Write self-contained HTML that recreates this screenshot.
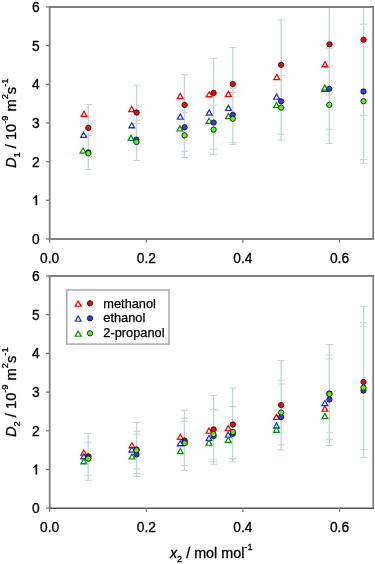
<!DOCTYPE html>
<html><head><meta charset="utf-8"><style>
html,body{margin:0;padding:0;background:#fff;width:375px;height:564px;overflow:hidden}
svg{display:block}
text{filter:grayscale(1)}
.t{font-family:"Liberation Sans",sans-serif;font-size:13.8px;fill:#000;stroke:#000;stroke-width:0.3px}
.l{font-family:"Liberation Sans",sans-serif;font-size:12.8px;fill:#000;stroke:#000;stroke-width:0.25px}
</style></head><body>
<svg width="375" height="564" viewBox="0 0 375 564">
<rect width="375" height="564" fill="#fff"/>
<clipPath id="c0"><rect x="49.7" y="7.0" width="323.50" height="232.0"/></clipPath>
<clipPath id="c1"><rect x="49.7" y="276.0" width="323.50" height="232.2"/></clipPath>
<g clip-path="url(#c0)">
<line x1="88.3" y1="104.4" x2="88.3" y2="169.4" stroke="#c6d5db" stroke-width="1.35"/>
<line x1="84.70" y1="104.4" x2="91.90" y2="104.4" stroke="#c6d5db" stroke-width="1.05"/>
<line x1="84.70" y1="135.5" x2="91.90" y2="135.5" stroke="#c6d5db" stroke-width="1.05"/>
<line x1="84.70" y1="169.4" x2="91.90" y2="169.4" stroke="#c6d5db" stroke-width="1.05"/>
<line x1="136.6" y1="85.2" x2="136.6" y2="160.4" stroke="#c6d5db" stroke-width="1.35"/>
<line x1="133.00" y1="85.2" x2="140.20" y2="85.2" stroke="#c6d5db" stroke-width="1.05"/>
<line x1="133.00" y1="120.2" x2="140.20" y2="120.2" stroke="#c6d5db" stroke-width="1.05"/>
<line x1="133.00" y1="123.5" x2="140.20" y2="123.5" stroke="#c6d5db" stroke-width="1.05"/>
<line x1="133.00" y1="160.4" x2="140.20" y2="160.4" stroke="#c6d5db" stroke-width="1.05"/>
<line x1="184.4" y1="74.8" x2="184.4" y2="157.6" stroke="#c6d5db" stroke-width="1.35"/>
<line x1="180.80" y1="74.8" x2="188.00" y2="74.8" stroke="#c6d5db" stroke-width="1.05"/>
<line x1="180.80" y1="112.8" x2="188.00" y2="112.8" stroke="#c6d5db" stroke-width="1.05"/>
<line x1="180.80" y1="151.2" x2="188.00" y2="151.2" stroke="#c6d5db" stroke-width="1.05"/>
<line x1="180.80" y1="157.6" x2="188.00" y2="157.6" stroke="#c6d5db" stroke-width="1.05"/>
<line x1="213.6" y1="58.3" x2="213.6" y2="154.5" stroke="#c6d5db" stroke-width="1.35"/>
<line x1="210.00" y1="58.3" x2="217.20" y2="58.3" stroke="#c6d5db" stroke-width="1.05"/>
<line x1="210.00" y1="105.2" x2="217.20" y2="105.2" stroke="#c6d5db" stroke-width="1.05"/>
<line x1="210.00" y1="149.2" x2="217.20" y2="149.2" stroke="#c6d5db" stroke-width="1.05"/>
<line x1="210.00" y1="154.5" x2="217.20" y2="154.5" stroke="#c6d5db" stroke-width="1.05"/>
<line x1="232.8" y1="47.5" x2="232.8" y2="144.4" stroke="#c6d5db" stroke-width="1.35"/>
<line x1="229.20" y1="47.5" x2="236.40" y2="47.5" stroke="#c6d5db" stroke-width="1.05"/>
<line x1="229.20" y1="88.1" x2="236.40" y2="88.1" stroke="#c6d5db" stroke-width="1.05"/>
<line x1="229.20" y1="92.4" x2="236.40" y2="92.4" stroke="#c6d5db" stroke-width="1.05"/>
<line x1="229.20" y1="142.8" x2="236.40" y2="142.8" stroke="#c6d5db" stroke-width="1.05"/>
<line x1="229.20" y1="144.4" x2="236.40" y2="144.4" stroke="#c6d5db" stroke-width="1.05"/>
<line x1="281.1" y1="20" x2="281.1" y2="140" stroke="#c6d5db" stroke-width="1.35"/>
<line x1="277.50" y1="20" x2="284.70" y2="20" stroke="#c6d5db" stroke-width="1.05"/>
<line x1="277.50" y1="75.5" x2="284.70" y2="75.5" stroke="#c6d5db" stroke-width="1.05"/>
<line x1="277.50" y1="134.2" x2="284.70" y2="134.2" stroke="#c6d5db" stroke-width="1.05"/>
<line x1="277.50" y1="140" x2="284.70" y2="140" stroke="#c6d5db" stroke-width="1.05"/>
<line x1="329.2" y1="7" x2="329.2" y2="143.5" stroke="#c6d5db" stroke-width="1.35"/>
<line x1="325.60" y1="48.3" x2="332.80" y2="48.3" stroke="#c6d5db" stroke-width="1.05"/>
<line x1="325.60" y1="65.9" x2="332.80" y2="65.9" stroke="#c6d5db" stroke-width="1.05"/>
<line x1="325.60" y1="94.9" x2="332.80" y2="94.9" stroke="#c6d5db" stroke-width="1.05"/>
<line x1="325.60" y1="129.3" x2="332.80" y2="129.3" stroke="#c6d5db" stroke-width="1.05"/>
<line x1="325.60" y1="143.5" x2="332.80" y2="143.5" stroke="#c6d5db" stroke-width="1.05"/>
<line x1="363.5" y1="7" x2="363.5" y2="163.3" stroke="#c6d5db" stroke-width="1.35"/>
<line x1="359.90" y1="24.3" x2="367.10" y2="24.3" stroke="#c6d5db" stroke-width="1.05"/>
<line x1="359.90" y1="115.2" x2="367.10" y2="115.2" stroke="#c6d5db" stroke-width="1.05"/>
<line x1="359.90" y1="159.5" x2="367.10" y2="159.5" stroke="#c6d5db" stroke-width="1.05"/>
<line x1="359.90" y1="163.3" x2="367.10" y2="163.3" stroke="#c6d5db" stroke-width="1.05"/>
</g>
<g clip-path="url(#c1)">
<line x1="88.2" y1="433.5" x2="88.2" y2="480.3" stroke="#c6d5db" stroke-width="1.35"/>
<line x1="84.60" y1="433.5" x2="91.80" y2="433.5" stroke="#c6d5db" stroke-width="1.05"/>
<line x1="84.60" y1="442.3" x2="91.80" y2="442.3" stroke="#c6d5db" stroke-width="1.05"/>
<line x1="84.60" y1="475.3" x2="91.80" y2="475.3" stroke="#c6d5db" stroke-width="1.05"/>
<line x1="84.60" y1="480.3" x2="91.80" y2="480.3" stroke="#c6d5db" stroke-width="1.05"/>
<line x1="136.6" y1="422.4" x2="136.6" y2="476.5" stroke="#c6d5db" stroke-width="1.35"/>
<line x1="133.00" y1="422.4" x2="140.20" y2="422.4" stroke="#c6d5db" stroke-width="1.05"/>
<line x1="133.00" y1="431.3" x2="140.20" y2="431.3" stroke="#c6d5db" stroke-width="1.05"/>
<line x1="133.00" y1="434.2" x2="140.20" y2="434.2" stroke="#c6d5db" stroke-width="1.05"/>
<line x1="133.00" y1="468.9" x2="140.20" y2="468.9" stroke="#c6d5db" stroke-width="1.05"/>
<line x1="133.00" y1="473.6" x2="140.20" y2="473.6" stroke="#c6d5db" stroke-width="1.05"/>
<line x1="133.00" y1="476.5" x2="140.20" y2="476.5" stroke="#c6d5db" stroke-width="1.05"/>
<line x1="184.4" y1="410.2" x2="184.4" y2="470.5" stroke="#c6d5db" stroke-width="1.35"/>
<line x1="180.80" y1="410.2" x2="188.00" y2="410.2" stroke="#c6d5db" stroke-width="1.05"/>
<line x1="180.80" y1="418.2" x2="188.00" y2="418.2" stroke="#c6d5db" stroke-width="1.05"/>
<line x1="180.80" y1="421" x2="188.00" y2="421" stroke="#c6d5db" stroke-width="1.05"/>
<line x1="180.80" y1="465.5" x2="188.00" y2="465.5" stroke="#c6d5db" stroke-width="1.05"/>
<line x1="180.80" y1="470.5" x2="188.00" y2="470.5" stroke="#c6d5db" stroke-width="1.05"/>
<line x1="213.6" y1="395.4" x2="213.6" y2="464.3" stroke="#c6d5db" stroke-width="1.35"/>
<line x1="210.00" y1="395.4" x2="217.20" y2="395.4" stroke="#c6d5db" stroke-width="1.05"/>
<line x1="210.00" y1="409.6" x2="217.20" y2="409.6" stroke="#c6d5db" stroke-width="1.05"/>
<line x1="210.00" y1="459.2" x2="217.20" y2="459.2" stroke="#c6d5db" stroke-width="1.05"/>
<line x1="210.00" y1="461.8" x2="217.20" y2="461.8" stroke="#c6d5db" stroke-width="1.05"/>
<line x1="210.00" y1="464.3" x2="217.20" y2="464.3" stroke="#c6d5db" stroke-width="1.05"/>
<line x1="232.6" y1="388" x2="232.6" y2="461.9" stroke="#c6d5db" stroke-width="1.35"/>
<line x1="229.00" y1="388" x2="236.20" y2="388" stroke="#c6d5db" stroke-width="1.05"/>
<line x1="229.00" y1="406.6" x2="236.20" y2="406.6" stroke="#c6d5db" stroke-width="1.05"/>
<line x1="229.00" y1="458.6" x2="236.20" y2="458.6" stroke="#c6d5db" stroke-width="1.05"/>
<line x1="229.00" y1="461.9" x2="236.20" y2="461.9" stroke="#c6d5db" stroke-width="1.05"/>
<line x1="281.1" y1="360.5" x2="281.1" y2="450" stroke="#c6d5db" stroke-width="1.35"/>
<line x1="277.50" y1="360.5" x2="284.70" y2="360.5" stroke="#c6d5db" stroke-width="1.05"/>
<line x1="277.50" y1="380.3" x2="284.70" y2="380.3" stroke="#c6d5db" stroke-width="1.05"/>
<line x1="277.50" y1="384" x2="284.70" y2="384" stroke="#c6d5db" stroke-width="1.05"/>
<line x1="277.50" y1="444.8" x2="284.70" y2="444.8" stroke="#c6d5db" stroke-width="1.05"/>
<line x1="277.50" y1="450" x2="284.70" y2="450" stroke="#c6d5db" stroke-width="1.05"/>
<line x1="329.3" y1="344.6" x2="329.3" y2="445.5" stroke="#c6d5db" stroke-width="1.35"/>
<line x1="325.70" y1="344.6" x2="332.90" y2="344.6" stroke="#c6d5db" stroke-width="1.05"/>
<line x1="325.70" y1="355" x2="332.90" y2="355" stroke="#c6d5db" stroke-width="1.05"/>
<line x1="325.70" y1="359" x2="332.90" y2="359" stroke="#c6d5db" stroke-width="1.05"/>
<line x1="325.70" y1="432.7" x2="332.90" y2="432.7" stroke="#c6d5db" stroke-width="1.05"/>
<line x1="325.70" y1="439.1" x2="332.90" y2="439.1" stroke="#c6d5db" stroke-width="1.05"/>
<line x1="325.70" y1="445.5" x2="332.90" y2="445.5" stroke="#c6d5db" stroke-width="1.05"/>
<line x1="363.5" y1="306.5" x2="363.5" y2="457.4" stroke="#c6d5db" stroke-width="1.35"/>
<line x1="359.90" y1="306.5" x2="367.10" y2="306.5" stroke="#c6d5db" stroke-width="1.05"/>
<line x1="359.90" y1="322.8" x2="367.10" y2="322.8" stroke="#c6d5db" stroke-width="1.05"/>
<line x1="359.90" y1="326.2" x2="367.10" y2="326.2" stroke="#c6d5db" stroke-width="1.05"/>
<line x1="359.90" y1="449.4" x2="367.10" y2="449.4" stroke="#c6d5db" stroke-width="1.05"/>
<line x1="359.90" y1="457.4" x2="367.10" y2="457.4" stroke="#c6d5db" stroke-width="1.05"/>
</g>
<path d="M84.00 110.00L88.00 117.00L80.00 117.00Z M84.00 112.82L85.59 115.60L82.41 115.60Z" fill="#ff0000" fill-rule="evenodd"/>
<path d="M84.00 112.82L85.59 115.60L82.41 115.60Z" fill="#fff"/>
<path d="M131.70 105.30L135.70 112.30L127.70 112.30Z M131.70 108.12L133.29 110.90L130.11 110.90Z" fill="#ff0000" fill-rule="evenodd"/>
<path d="M131.70 108.12L133.29 110.90L130.11 110.90Z" fill="#fff"/>
<path d="M180.20 92.30L184.20 99.30L176.20 99.30Z M180.20 95.12L181.79 97.90L178.61 97.90Z" fill="#ff0000" fill-rule="evenodd"/>
<path d="M180.20 95.12L181.79 97.90L178.61 97.90Z" fill="#fff"/>
<path d="M209.20 90.50L213.20 97.50L205.20 97.50Z M209.20 93.32L210.79 96.10L207.61 96.10Z" fill="#ff0000" fill-rule="evenodd"/>
<path d="M209.20 93.32L210.79 96.10L207.61 96.10Z" fill="#fff"/>
<path d="M228.40 90.10L232.40 97.10L224.40 97.10Z M228.40 92.92L229.99 95.70L226.81 95.70Z" fill="#ff0000" fill-rule="evenodd"/>
<path d="M228.40 92.92L229.99 95.70L226.81 95.70Z" fill="#fff"/>
<path d="M276.80 73.30L280.80 80.30L272.80 80.30Z M276.80 76.12L278.39 78.90L275.21 78.90Z" fill="#ff0000" fill-rule="evenodd"/>
<path d="M276.80 76.12L278.39 78.90L275.21 78.90Z" fill="#fff"/>
<path d="M325.00 60.50L329.00 67.50L321.00 67.50Z M325.00 63.32L326.59 66.10L323.41 66.10Z" fill="#ff0000" fill-rule="evenodd"/>
<path d="M325.00 63.32L326.59 66.10L323.41 66.10Z" fill="#fff"/>
<path d="M83.60 130.90L87.60 137.90L79.60 137.90Z M83.60 133.72L85.19 136.50L82.01 136.50Z" fill="#1f2ff5" fill-rule="evenodd"/>
<path d="M83.60 133.72L85.19 136.50L82.01 136.50Z" fill="#fff"/>
<path d="M131.80 121.50L135.80 128.50L127.80 128.50Z M131.80 124.32L133.39 127.10L130.21 127.10Z" fill="#1f2ff5" fill-rule="evenodd"/>
<path d="M131.80 124.32L133.39 127.10L130.21 127.10Z" fill="#fff"/>
<path d="M180.30 112.80L184.30 119.80L176.30 119.80Z M180.30 115.62L181.89 118.40L178.71 118.40Z" fill="#1f2ff5" fill-rule="evenodd"/>
<path d="M180.30 115.62L181.89 118.40L178.71 118.40Z" fill="#fff"/>
<path d="M209.20 108.70L213.20 115.70L205.20 115.70Z M209.20 111.52L210.79 114.30L207.61 114.30Z" fill="#1f2ff5" fill-rule="evenodd"/>
<path d="M209.20 111.52L210.79 114.30L207.61 114.30Z" fill="#fff"/>
<path d="M228.40 104.10L232.40 111.10L224.40 111.10Z M228.40 106.92L229.99 109.70L226.81 109.70Z" fill="#1f2ff5" fill-rule="evenodd"/>
<path d="M228.40 106.92L229.99 109.70L226.81 109.70Z" fill="#fff"/>
<path d="M276.60 92.80L280.60 99.80L272.60 99.80Z M276.60 95.62L278.19 98.40L275.01 98.40Z" fill="#1f2ff5" fill-rule="evenodd"/>
<path d="M276.60 95.62L278.19 98.40L275.01 98.40Z" fill="#fff"/>
<path d="M324.80 85.10L328.80 92.10L320.80 92.10Z M324.80 87.92L326.39 90.70L323.21 90.70Z" fill="#1f2ff5" fill-rule="evenodd"/>
<path d="M324.80 87.92L326.39 90.70L323.21 90.70Z" fill="#fff"/>
<path d="M83.00 146.70L87.00 153.70L79.00 153.70Z M83.00 149.52L84.59 152.30L81.41 152.30Z" fill="#009a00" fill-rule="evenodd"/>
<path d="M83.00 149.52L84.59 152.30L81.41 152.30Z" fill="#fff"/>
<path d="M131.00 134.10L135.00 141.10L127.00 141.10Z M131.00 136.92L132.59 139.70L129.41 139.70Z" fill="#009a00" fill-rule="evenodd"/>
<path d="M131.00 136.92L132.59 139.70L129.41 139.70Z" fill="#fff"/>
<path d="M179.90 124.60L183.90 131.60L175.90 131.60Z M179.90 127.42L181.49 130.20L178.31 130.20Z" fill="#009a00" fill-rule="evenodd"/>
<path d="M179.90 127.42L181.49 130.20L178.31 130.20Z" fill="#fff"/>
<path d="M209.00 116.90L213.00 123.90L205.00 123.90Z M209.00 119.72L210.59 122.50L207.41 122.50Z" fill="#009a00" fill-rule="evenodd"/>
<path d="M209.00 119.72L210.59 122.50L207.41 122.50Z" fill="#fff"/>
<path d="M228.40 112.30L232.40 119.30L224.40 119.30Z M228.40 115.12L229.99 117.90L226.81 117.90Z" fill="#009a00" fill-rule="evenodd"/>
<path d="M228.40 115.12L229.99 117.90L226.81 117.90Z" fill="#fff"/>
<path d="M276.50 101.30L280.50 108.30L272.50 108.30Z M276.50 104.12L278.09 106.90L274.91 106.90Z" fill="#009a00" fill-rule="evenodd"/>
<path d="M276.50 104.12L278.09 106.90L274.91 106.90Z" fill="#fff"/>
<path d="M324.80 83.70L328.80 90.70L320.80 90.70Z M324.80 86.52L326.39 89.30L323.21 89.30Z" fill="#009a00" fill-rule="evenodd"/>
<path d="M324.80 86.52L326.39 89.30L323.21 89.30Z" fill="#fff"/>
<circle cx="88.30" cy="127.90" r="2.65" fill="#ff0000" stroke="#1a1a1a" stroke-width="0.9"/>
<circle cx="136.60" cy="112.50" r="2.65" fill="#ff0000" stroke="#1a1a1a" stroke-width="0.9"/>
<circle cx="184.60" cy="104.90" r="2.65" fill="#ff0000" stroke="#1a1a1a" stroke-width="0.9"/>
<circle cx="213.60" cy="92.90" r="2.65" fill="#ff0000" stroke="#1a1a1a" stroke-width="0.9"/>
<circle cx="232.80" cy="84.10" r="2.65" fill="#ff0000" stroke="#1a1a1a" stroke-width="0.9"/>
<circle cx="281.10" cy="64.80" r="2.65" fill="#ff0000" stroke="#1a1a1a" stroke-width="0.9"/>
<circle cx="329.50" cy="44.30" r="2.65" fill="#ff0000" stroke="#1a1a1a" stroke-width="0.9"/>
<circle cx="363.50" cy="39.70" r="2.65" fill="#ff0000" stroke="#1a1a1a" stroke-width="0.9"/>
<circle cx="88.30" cy="152.30" r="2.65" fill="#2a3cf0" stroke="#1a1a1a" stroke-width="0.9"/>
<circle cx="136.40" cy="139.60" r="2.65" fill="#2a3cf0" stroke="#1a1a1a" stroke-width="0.9"/>
<circle cx="184.60" cy="127.20" r="2.65" fill="#2a3cf0" stroke="#1a1a1a" stroke-width="0.9"/>
<circle cx="213.60" cy="122.60" r="2.65" fill="#2a3cf0" stroke="#1a1a1a" stroke-width="0.9"/>
<circle cx="232.80" cy="114.80" r="2.65" fill="#2a3cf0" stroke="#1a1a1a" stroke-width="0.9"/>
<circle cx="281.10" cy="101.30" r="2.65" fill="#2a3cf0" stroke="#1a1a1a" stroke-width="0.9"/>
<circle cx="329.30" cy="88.80" r="2.65" fill="#2a3cf0" stroke="#1a1a1a" stroke-width="0.9"/>
<circle cx="363.50" cy="91.50" r="2.65" fill="#2a3cf0" stroke="#1a1a1a" stroke-width="0.9"/>
<circle cx="88.30" cy="153.20" r="2.65" fill="#5cf01e" stroke="#1a1a1a" stroke-width="0.9"/>
<circle cx="136.40" cy="142.00" r="2.65" fill="#5cf01e" stroke="#1a1a1a" stroke-width="0.9"/>
<circle cx="184.60" cy="135.30" r="2.65" fill="#5cf01e" stroke="#1a1a1a" stroke-width="0.9"/>
<circle cx="213.60" cy="129.60" r="2.65" fill="#5cf01e" stroke="#1a1a1a" stroke-width="0.9"/>
<circle cx="232.80" cy="118.80" r="2.65" fill="#5cf01e" stroke="#1a1a1a" stroke-width="0.9"/>
<circle cx="281.10" cy="107.70" r="2.65" fill="#5cf01e" stroke="#1a1a1a" stroke-width="0.9"/>
<circle cx="329.30" cy="104.80" r="2.65" fill="#5cf01e" stroke="#1a1a1a" stroke-width="0.9"/>
<circle cx="363.50" cy="101.30" r="2.65" fill="#5cf01e" stroke="#1a1a1a" stroke-width="0.9"/>
<path d="M83.80 448.70L87.80 455.70L79.80 455.70Z M83.80 451.52L85.39 454.30L82.21 454.30Z" fill="#ff0000" fill-rule="evenodd"/>
<path d="M83.80 451.52L85.39 454.30L82.21 454.30Z" fill="#fff"/>
<path d="M131.90 441.40L135.90 448.40L127.90 448.40Z M131.90 444.22L133.49 447.00L130.31 447.00Z" fill="#ff0000" fill-rule="evenodd"/>
<path d="M131.90 444.22L133.49 447.00L130.31 447.00Z" fill="#fff"/>
<path d="M180.30 433.00L184.30 440.00L176.30 440.00Z M180.30 435.82L181.89 438.60L178.71 438.60Z" fill="#ff0000" fill-rule="evenodd"/>
<path d="M180.30 435.82L181.89 438.60L178.71 438.60Z" fill="#fff"/>
<path d="M209.00 426.80L213.00 433.80L205.00 433.80Z M209.00 429.62L210.59 432.40L207.41 432.40Z" fill="#ff0000" fill-rule="evenodd"/>
<path d="M209.00 429.62L210.59 432.40L207.41 432.40Z" fill="#fff"/>
<path d="M228.20 424.30L232.20 431.30L224.20 431.30Z M228.20 427.12L229.79 429.90L226.61 429.90Z" fill="#ff0000" fill-rule="evenodd"/>
<path d="M228.20 427.12L229.79 429.90L226.61 429.90Z" fill="#fff"/>
<path d="M276.50 413.10L280.50 420.10L272.50 420.10Z M276.50 415.92L278.09 418.70L274.91 418.70Z" fill="#ff0000" fill-rule="evenodd"/>
<path d="M276.50 415.92L278.09 418.70L274.91 418.70Z" fill="#fff"/>
<path d="M324.90 404.80L328.90 411.80L320.90 411.80Z M324.90 407.62L326.49 410.40L323.31 410.40Z" fill="#ff0000" fill-rule="evenodd"/>
<path d="M324.90 407.62L326.49 410.40L323.31 410.40Z" fill="#fff"/>
<path d="M83.80 452.50L87.80 459.50L79.80 459.50Z M83.80 455.32L85.39 458.10L82.21 458.10Z" fill="#1f2ff5" fill-rule="evenodd"/>
<path d="M83.80 455.32L85.39 458.10L82.21 458.10Z" fill="#fff"/>
<path d="M131.90 445.70L135.90 452.70L127.90 452.70Z M131.90 448.52L133.49 451.30L130.31 451.30Z" fill="#1f2ff5" fill-rule="evenodd"/>
<path d="M131.90 448.52L133.49 451.30L130.31 451.30Z" fill="#fff"/>
<path d="M180.30 439.50L184.30 446.50L176.30 446.50Z M180.30 442.32L181.89 445.10L178.71 445.10Z" fill="#1f2ff5" fill-rule="evenodd"/>
<path d="M180.30 442.32L181.89 445.10L178.71 445.10Z" fill="#fff"/>
<path d="M209.00 434.20L213.00 441.20L205.00 441.20Z M209.00 437.02L210.59 439.80L207.41 439.80Z" fill="#1f2ff5" fill-rule="evenodd"/>
<path d="M209.00 437.02L210.59 439.80L207.41 439.80Z" fill="#fff"/>
<path d="M228.20 430.80L232.20 437.80L224.20 437.80Z M228.20 433.62L229.79 436.40L226.61 436.40Z" fill="#1f2ff5" fill-rule="evenodd"/>
<path d="M228.20 433.62L229.79 436.40L226.61 436.40Z" fill="#fff"/>
<path d="M276.50 421.70L280.50 428.70L272.50 428.70Z M276.50 424.52L278.09 427.30L274.91 427.30Z" fill="#1f2ff5" fill-rule="evenodd"/>
<path d="M276.50 424.52L278.09 427.30L274.91 427.30Z" fill="#fff"/>
<path d="M324.90 399.30L328.90 406.30L320.90 406.30Z M324.90 402.12L326.49 404.90L323.31 404.90Z" fill="#1f2ff5" fill-rule="evenodd"/>
<path d="M324.90 402.12L326.49 404.90L323.31 404.90Z" fill="#fff"/>
<path d="M83.80 457.40L87.80 464.40L79.80 464.40Z M83.80 460.22L85.39 463.00L82.21 463.00Z" fill="#009a00" fill-rule="evenodd"/>
<path d="M83.80 460.22L85.39 463.00L82.21 463.00Z" fill="#fff"/>
<path d="M132.00 452.60L136.00 459.60L128.00 459.60Z M132.00 455.42L133.59 458.20L130.41 458.20Z" fill="#009a00" fill-rule="evenodd"/>
<path d="M132.00 455.42L133.59 458.20L130.41 458.20Z" fill="#fff"/>
<path d="M180.30 447.30L184.30 454.30L176.30 454.30Z M180.30 450.12L181.89 452.90L178.71 452.90Z" fill="#009a00" fill-rule="evenodd"/>
<path d="M180.30 450.12L181.89 452.90L178.71 452.90Z" fill="#fff"/>
<path d="M209.00 438.80L213.00 445.80L205.00 445.80Z M209.00 441.62L210.59 444.40L207.41 444.40Z" fill="#009a00" fill-rule="evenodd"/>
<path d="M209.00 441.62L210.59 444.40L207.41 444.40Z" fill="#fff"/>
<path d="M228.20 436.00L232.20 443.00L224.20 443.00Z M228.20 438.82L229.79 441.60L226.61 441.60Z" fill="#009a00" fill-rule="evenodd"/>
<path d="M228.20 438.82L229.79 441.60L226.61 441.60Z" fill="#fff"/>
<path d="M276.50 426.00L280.50 433.00L272.50 433.00Z M276.50 428.82L278.09 431.60L274.91 431.60Z" fill="#009a00" fill-rule="evenodd"/>
<path d="M276.50 428.82L278.09 431.60L274.91 431.60Z" fill="#fff"/>
<path d="M324.90 412.30L328.90 419.30L320.90 419.30Z M324.90 415.12L326.49 417.90L323.31 417.90Z" fill="#009a00" fill-rule="evenodd"/>
<path d="M324.90 415.12L326.49 417.90L323.31 417.90Z" fill="#fff"/>
<circle cx="88.50" cy="456.30" r="2.65" fill="#ff0000" stroke="#1a1a1a" stroke-width="0.9"/>
<circle cx="136.50" cy="449.50" r="2.65" fill="#ff0000" stroke="#1a1a1a" stroke-width="0.9"/>
<circle cx="184.60" cy="440.50" r="2.65" fill="#ff0000" stroke="#1a1a1a" stroke-width="0.9"/>
<circle cx="213.60" cy="429.30" r="2.65" fill="#ff0000" stroke="#1a1a1a" stroke-width="0.9"/>
<circle cx="232.90" cy="424.50" r="2.65" fill="#ff0000" stroke="#1a1a1a" stroke-width="0.9"/>
<circle cx="281.10" cy="405.10" r="2.65" fill="#ff0000" stroke="#1a1a1a" stroke-width="0.9"/>
<circle cx="329.40" cy="393.50" r="2.65" fill="#ff0000" stroke="#1a1a1a" stroke-width="0.9"/>
<circle cx="363.50" cy="382.00" r="2.65" fill="#ff0000" stroke="#1a1a1a" stroke-width="0.9"/>
<circle cx="88.30" cy="458.30" r="2.65" fill="#2a3cf0" stroke="#1a1a1a" stroke-width="0.9"/>
<circle cx="136.50" cy="454.50" r="2.65" fill="#2a3cf0" stroke="#1a1a1a" stroke-width="0.9"/>
<circle cx="184.60" cy="442.00" r="2.65" fill="#2a3cf0" stroke="#1a1a1a" stroke-width="0.9"/>
<circle cx="213.60" cy="436.10" r="2.65" fill="#2a3cf0" stroke="#1a1a1a" stroke-width="0.9"/>
<circle cx="232.90" cy="433.80" r="2.65" fill="#2a3cf0" stroke="#1a1a1a" stroke-width="0.9"/>
<circle cx="281.10" cy="417.10" r="2.65" fill="#2a3cf0" stroke="#1a1a1a" stroke-width="0.9"/>
<circle cx="329.40" cy="399.50" r="2.65" fill="#2a3cf0" stroke="#1a1a1a" stroke-width="0.9"/>
<circle cx="363.50" cy="390.50" r="2.65" fill="#2a3cf0" stroke="#1a1a1a" stroke-width="0.9"/>
<circle cx="88.20" cy="458.60" r="2.65" fill="#5cf01e" stroke="#1a1a1a" stroke-width="0.9"/>
<circle cx="136.50" cy="450.30" r="2.65" fill="#5cf01e" stroke="#1a1a1a" stroke-width="0.9"/>
<circle cx="184.80" cy="443.10" r="2.65" fill="#5cf01e" stroke="#1a1a1a" stroke-width="0.9"/>
<circle cx="213.40" cy="434.20" r="2.65" fill="#5cf01e" stroke="#1a1a1a" stroke-width="0.9"/>
<circle cx="232.90" cy="432.00" r="2.65" fill="#5cf01e" stroke="#1a1a1a" stroke-width="0.9"/>
<circle cx="281.10" cy="412.50" r="2.65" fill="#5cf01e" stroke="#1a1a1a" stroke-width="0.9"/>
<circle cx="329.40" cy="394.10" r="2.65" fill="#5cf01e" stroke="#1a1a1a" stroke-width="0.9"/>
<circle cx="363.50" cy="387.60" r="2.65" fill="#5cf01e" stroke="#1a1a1a" stroke-width="0.9"/>
<path d="M49.7 7.0H373.2V239.0" fill="none" stroke="#808080" stroke-width="1.8" stroke-linecap="square"/>
<path d="M49.7 7.0V239.0" fill="none" stroke="#808080" stroke-width="1.8" stroke-linecap="square"/>
<path d="M48.800000000000004 239.0H374.09999999999997" fill="none" stroke="#808080" stroke-width="1.8"/>
<line x1="46" y1="239.00" x2="49.7" y2="239.00" stroke="#808080" stroke-width="1.3"/>
<text transform="translate(39.6 244.00) scale(1 1.06)" text-anchor="end" class="t">0</text>
<line x1="46" y1="200.33" x2="49.7" y2="200.33" stroke="#808080" stroke-width="1.3"/>
<path d="M37.2 205.23H35.5V197.63C34.8 198.33 33.9 198.83 32.9 199.23V197.73C34.3 197.13 35.4 196.13 35.9 195.03H37.2Z" fill="#000"/>
<line x1="46" y1="161.67" x2="49.7" y2="161.67" stroke="#808080" stroke-width="1.3"/>
<text transform="translate(39.6 166.67) scale(1 1.06)" text-anchor="end" class="t">2</text>
<line x1="46" y1="123.00" x2="49.7" y2="123.00" stroke="#808080" stroke-width="1.3"/>
<text transform="translate(39.6 128.00) scale(1 1.06)" text-anchor="end" class="t">3</text>
<line x1="46" y1="84.33" x2="49.7" y2="84.33" stroke="#808080" stroke-width="1.3"/>
<text transform="translate(39.6 89.33) scale(1 1.06)" text-anchor="end" class="t">4</text>
<line x1="46" y1="45.67" x2="49.7" y2="45.67" stroke="#808080" stroke-width="1.3"/>
<text transform="translate(39.6 50.67) scale(1 1.06)" text-anchor="end" class="t">5</text>
<line x1="46" y1="7.00" x2="49.7" y2="7.00" stroke="#808080" stroke-width="1.3"/>
<text transform="translate(39.6 12.00) scale(1 1.06)" text-anchor="end" class="t">6</text>
<line x1="49.70" y1="239.0" x2="49.70" y2="242.8" stroke="#808080" stroke-width="1.3"/>
<text transform="translate(49.70 263.10) scale(1 1.06)" text-anchor="middle" class="t">0.0</text>
<line x1="146.30" y1="239.0" x2="146.30" y2="242.8" stroke="#808080" stroke-width="1.3"/>
<text transform="translate(146.30 263.10) scale(1 1.06)" text-anchor="middle" class="t">0.2</text>
<line x1="242.90" y1="239.0" x2="242.90" y2="242.8" stroke="#808080" stroke-width="1.3"/>
<text transform="translate(242.90 263.10) scale(1 1.06)" text-anchor="middle" class="t">0.4</text>
<line x1="339.50" y1="239.0" x2="339.50" y2="242.8" stroke="#808080" stroke-width="1.3"/>
<text transform="translate(339.50 263.10) scale(1 1.06)" text-anchor="middle" class="t">0.6</text>
<path d="M49.7 276.0H373.2V508.2" fill="none" stroke="#808080" stroke-width="1.8" stroke-linecap="square"/>
<path d="M49.7 276.0V508.2" fill="none" stroke="#808080" stroke-width="1.8" stroke-linecap="square"/>
<path d="M48.800000000000004 508.2H374.09999999999997" fill="none" stroke="#555555" stroke-width="1.4"/>
<line x1="46" y1="508.20" x2="49.7" y2="508.20" stroke="#808080" stroke-width="1.3"/>
<text transform="translate(39.6 513.20) scale(1 1.06)" text-anchor="end" class="t">0</text>
<line x1="46" y1="469.50" x2="49.7" y2="469.50" stroke="#808080" stroke-width="1.3"/>
<path d="M37.2 474.40H35.5V466.80C34.8 467.50 33.9 468.00 32.9 468.40V466.90C34.3 466.30 35.4 465.30 35.9 464.20H37.2Z" fill="#000"/>
<line x1="46" y1="430.80" x2="49.7" y2="430.80" stroke="#808080" stroke-width="1.3"/>
<text transform="translate(39.6 435.80) scale(1 1.06)" text-anchor="end" class="t">2</text>
<line x1="46" y1="392.10" x2="49.7" y2="392.10" stroke="#808080" stroke-width="1.3"/>
<text transform="translate(39.6 397.10) scale(1 1.06)" text-anchor="end" class="t">3</text>
<line x1="46" y1="353.40" x2="49.7" y2="353.40" stroke="#808080" stroke-width="1.3"/>
<text transform="translate(39.6 358.40) scale(1 1.06)" text-anchor="end" class="t">4</text>
<line x1="46" y1="314.70" x2="49.7" y2="314.70" stroke="#808080" stroke-width="1.3"/>
<text transform="translate(39.6 319.70) scale(1 1.06)" text-anchor="end" class="t">5</text>
<line x1="46" y1="276.00" x2="49.7" y2="276.00" stroke="#808080" stroke-width="1.3"/>
<text transform="translate(39.6 281.00) scale(1 1.06)" text-anchor="end" class="t">6</text>
<line x1="49.70" y1="508.2" x2="49.70" y2="512.0" stroke="#808080" stroke-width="1.3"/>
<text transform="translate(49.70 532.30) scale(1 1.06)" text-anchor="middle" class="t">0.0</text>
<line x1="146.30" y1="508.2" x2="146.30" y2="512.0" stroke="#808080" stroke-width="1.3"/>
<text transform="translate(146.30 532.30) scale(1 1.06)" text-anchor="middle" class="t">0.2</text>
<line x1="242.90" y1="508.2" x2="242.90" y2="512.0" stroke="#808080" stroke-width="1.3"/>
<text transform="translate(242.90 532.30) scale(1 1.06)" text-anchor="middle" class="t">0.4</text>
<line x1="339.50" y1="508.2" x2="339.50" y2="512.0" stroke="#808080" stroke-width="1.3"/>
<text transform="translate(339.50 532.30) scale(1 1.06)" text-anchor="middle" class="t">0.6</text>
<rect x="66.8" y="290.0" width="102.2" height="54.1" fill="#fff" stroke="#a4a4a4" stroke-width="1.4"/>
<path d="M78.20 299.80L82.20 306.80L74.20 306.80Z M78.20 302.62L79.79 305.40L76.61 305.40Z" fill="#ff0000" fill-rule="evenodd"/>
<path d="M78.20 302.62L79.79 305.40L76.61 305.40Z" fill="#fff"/>
<circle cx="90.00" cy="303.30" r="2.65" fill="#ff0000" stroke="#1a1a1a" stroke-width="0.9"/>
<text x="103.3" y="308.30" class="l">methanol</text>
<path d="M78.20 314.80L82.20 321.80L74.20 321.80Z M78.20 317.62L79.79 320.40L76.61 320.40Z" fill="#1f2ff5" fill-rule="evenodd"/>
<path d="M78.20 317.62L79.79 320.40L76.61 320.40Z" fill="#fff"/>
<circle cx="90.00" cy="318.30" r="2.65" fill="#2a3cf0" stroke="#1a1a1a" stroke-width="0.9"/>
<text x="103.3" y="322.45" class="l">ethanol</text>
<path d="M78.20 329.80L82.20 336.80L74.20 336.80Z M78.20 332.62L79.79 335.40L76.61 335.40Z" fill="#009a00" fill-rule="evenodd"/>
<path d="M78.20 332.62L79.79 335.40L76.61 335.40Z" fill="#fff"/>
<circle cx="90.00" cy="333.30" r="2.65" fill="#5cf01e" stroke="#1a1a1a" stroke-width="0.9"/>
<text x="103.3" y="336.60" class="l">2-propanol</text>
<text transform="translate(15.5 123.3) scale(1 1.06) rotate(-90)" text-anchor="middle" class="t"><tspan font-style="italic">D</tspan><tspan dy="4.2" font-size="8.8">1</tspan><tspan dy="-4.2"> / 10</tspan><tspan dy="-7.3" font-size="8.8">-9</tspan><tspan dy="7.3"> m</tspan><tspan dy="-7.3" font-size="8.8">2</tspan><tspan dy="7.3">s</tspan><tspan dy="-7.3" font-size="8.8">-1</tspan></text>
<text transform="translate(15.5 392.2) scale(1 1.06) rotate(-90)" text-anchor="middle" class="t"><tspan font-style="italic">D</tspan><tspan dy="4.2" font-size="8.8">2</tspan><tspan dy="-4.2"> / 10</tspan><tspan dy="-7.3" font-size="8.8">-9</tspan><tspan dy="7.3"> m</tspan><tspan dy="-7.3" font-size="8.8">2</tspan><tspan dy="7.3">s</tspan><tspan dy="-7.3" font-size="8.8">-1</tspan></text>
<text transform="translate(211.2 557.7) scale(1.04 1)" text-anchor="middle" class="t"><tspan font-style="italic">x</tspan><tspan dy="4.2" font-size="8.8">2</tspan><tspan dy="-4.2"> / mol mol</tspan><tspan dy="-7.3" font-size="8.8">-1</tspan></text>
</svg>
</body></html>
